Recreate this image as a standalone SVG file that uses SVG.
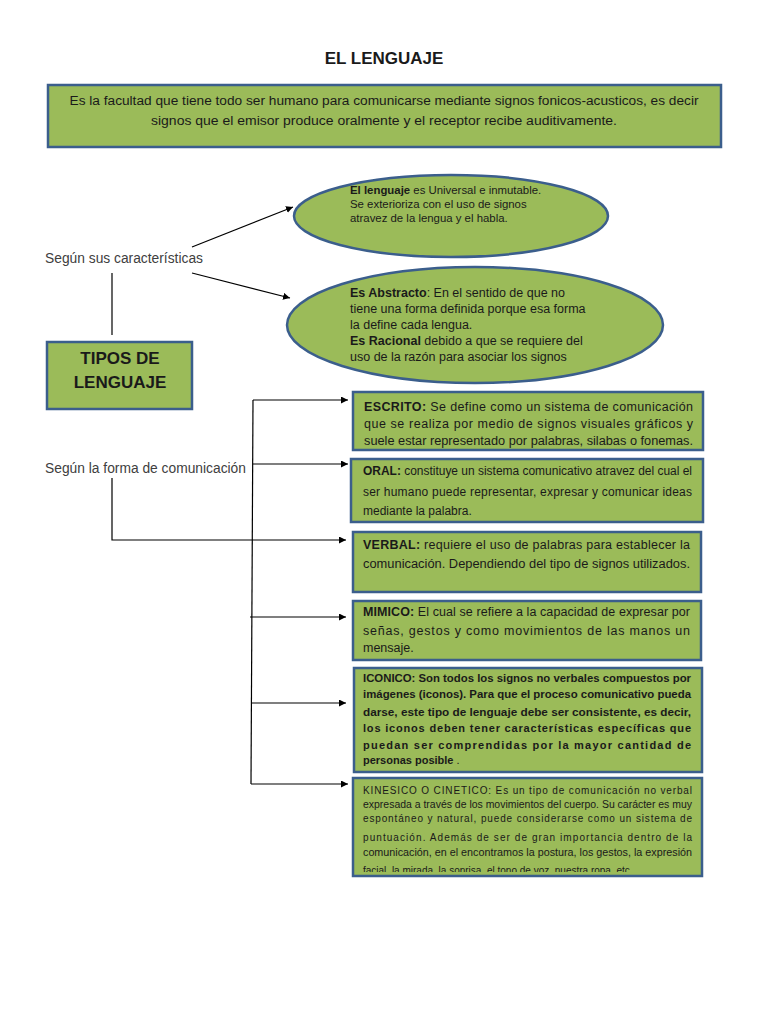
<svg xmlns="http://www.w3.org/2000/svg" width="768" height="1024" viewBox="0 0 768 1024">
<defs>
<marker id="arr" viewBox="0 0 10 10" refX="10" refY="5" markerWidth="7" markerHeight="7" orient="auto" markerUnits="userSpaceOnUse">
<path d="M0,0 L10,5 L0,10 z" fill="#000"/>
</marker>
<clipPath id="kclip"><rect x="354" y="780" width="346" height="92"/></clipPath>
</defs>
<style>
.box{fill:#9BBB59;stroke:#3B5E8C;stroke-width:2.5}
.ell{fill:#9BBB59;stroke:#3B5E8C;stroke-width:2.5}
.t{font-family:"Liberation Sans",Arial,sans-serif;fill:#1a1a1a}
.lbl{font-family:"Liberation Sans",Arial,sans-serif;fill:#404040;font-size:13.8px}
.b{font-weight:bold}
.con{stroke:#000;stroke-width:1.2;fill:none}
</style>
<rect width="768" height="1024" fill="#fff"/>

<g id="title">
<text class="t b" x="384" y="64" font-size="17" text-anchor="middle" fill="#000">EL LENGUAJE</text>
</g>

<g id="definicion">
<rect class="box" x="48" y="85" width="673" height="62"/>
<text class="t" x="384" y="105" font-size="12.5" text-anchor="middle" textLength="629" lengthAdjust="spacingAndGlyphs">Es la facultad que tiene todo ser humano para comunicarse mediante signos fonicos-acusticos, es decir</text>
<text class="t" x="384" y="125" font-size="12.5" text-anchor="middle" textLength="466" lengthAdjust="spacingAndGlyphs">signos que el emisor produce oralmente y el receptor recibe auditivamente.</text>
</g>

<g id="label-caracteristicas">
<text class="lbl" x="45" y="263">Según sus características</text>
</g>

<g id="caracteristica-1">
<ellipse class="ell" cx="451" cy="216" rx="157" ry="41"/>
<text class="t" font-size="11.4" x="350" y="194"><tspan class="b">El lenguaje</tspan> es Universal e inmutable.</text>
<text class="t" font-size="11.4" x="350" y="208">Se exterioriza con el uso de signos</text>
<text class="t" font-size="11.4" x="350" y="222">atravez de la lengua y el habla.</text>
</g>

<g id="caracteristica-2">
<ellipse class="ell" cx="475" cy="325" rx="188" ry="58"/>
<text class="t" font-size="12.5" x="350" y="297"><tspan class="b">Es Abstracto</tspan>: En el sentido de que no</text>
<text class="t" font-size="12.5" x="350" y="313">tiene una forma definida porque esa forma</text>
<text class="t" font-size="12.5" x="350" y="329">la define cada lengua.</text>
<text class="t" font-size="12.5" x="350" y="345"><tspan class="b">Es Racional</tspan> debido a que se requiere del</text>
<text class="t" font-size="12.5" x="350" y="361">uso de la razón para asociar los signos</text>
</g>

<g id="tipos">
<rect class="box" x="47" y="342" width="145" height="67"/>
<text class="t b" x="120" y="364" font-size="17" text-anchor="middle" fill="#000">TIPOS DE</text>
<text class="t b" x="120" y="388" font-size="17" text-anchor="middle" fill="#000">LENGUAJE</text>
</g>

<g id="label-forma">
<text class="lbl" x="45" y="473">Según la forma de comunicación</text>
</g>

<g id="escrito">
<rect class="box" x="353" y="392" width="350" height="58"/>
<text class="t" font-size="12.5" x="364" y="411" textLength="329" lengthAdjust="spacing"><tspan class="b">ESCRITO:</tspan> Se define como un sistema de comunicación</text>
<text class="t" font-size="12.5" x="364" y="428" textLength="329" lengthAdjust="spacing">que se realiza por medio de signos visuales gráficos y</text>
<text class="t" font-size="12.5" x="364" y="445" textLength="329" lengthAdjust="spacingAndGlyphs">suele estar representado por palabras, silabas o fonemas.</text>
</g>

<g id="oral">
<rect class="box" x="351" y="459" width="352" height="63"/>
<text class="t" font-size="12" x="363" y="475" textLength="329" lengthAdjust="spacingAndGlyphs"><tspan class="b">ORAL:</tspan> constituye un sistema comunicativo atravez del cual el</text>
<text class="t" font-size="12" x="363" y="496" textLength="329" lengthAdjust="spacing">ser humano puede representar, expresar y comunicar ideas</text>
<text class="t" font-size="12" x="363" y="515">mediante la palabra.</text>
</g>

<g id="verbal">
<rect class="box" x="353" y="532" width="348" height="60"/>
<text class="t" font-size="12.5" x="363" y="549" textLength="327" lengthAdjust="spacing"><tspan class="b">VERBAL:</tspan>  requiere el uso de palabras para establecer la</text>
<text class="t" font-size="12.5" x="363" y="568" textLength="327" lengthAdjust="spacingAndGlyphs">comunicación. Dependiendo del tipo de signos utilizados.</text>
</g>

<g id="mimico">
<rect class="box" x="353" y="601" width="348" height="59"/>
<text class="t" font-size="12.5" x="363" y="616" textLength="327" lengthAdjust="spacing"><tspan class="b">MIMICO:</tspan> El cual se refiere a la capacidad de expresar por</text>
<text class="t" font-size="12.5" x="363" y="635" textLength="327" lengthAdjust="spacing">señas, gestos y como movimientos de las manos un</text>
<text class="t" font-size="12.5" x="363" y="652">mensaje.</text>
</g>

<g id="iconico">
<rect class="box" x="354" y="668" width="348" height="104"/>
<g class="t b" font-size="11">
<text x="363" y="682" textLength="328" lengthAdjust="spacingAndGlyphs">ICONICO: Son todos los signos no verbales compuestos por</text>
<text x="363" y="698" textLength="328" lengthAdjust="spacingAndGlyphs">imágenes (iconos). Para que el proceso comunicativo pueda</text>
<text x="363" y="716" textLength="328" lengthAdjust="spacingAndGlyphs">darse, este tipo de lenguaje debe ser consistente, es decir,</text>
<text x="363" y="732" textLength="328" lengthAdjust="spacing">los iconos deben tener características específicas que</text>
<text x="363" y="749" textLength="328" lengthAdjust="spacing">puedan ser comprendidas por la mayor cantidad de</text>
<text x="363" y="764">personas posible <tspan font-weight="normal">.</tspan></text>
</g>
</g>

<g id="kinesico">
<rect class="box" x="353" y="778" width="349" height="98"/>
<g class="t" font-size="10">
<text x="363" y="794" textLength="329" lengthAdjust="spacing">KINESICO O CINETICO: Es un tipo de comunicación  no verbal</text>
<text x="363" y="808" textLength="329" lengthAdjust="spacingAndGlyphs">expresada a través de los  movimientos del cuerpo. Su carácter es muy</text>
<text x="363" y="822" textLength="329" lengthAdjust="spacing">espontáneo y natural, puede considerarse como un  sistema de</text>
<text x="363" y="841" textLength="329" lengthAdjust="spacing">puntuación. Además de ser de gran importancia dentro de la</text>
<text x="363" y="856" textLength="329" lengthAdjust="spacingAndGlyphs">comunicación, en el encontramos la postura, los gestos, la expresión</text>
<text x="363" y="874" clip-path="url(#kclip)">facial, la mirada, la sonrisa, el tono de voz, nuestra ropa, etc.</text>
</g>
</g>

<g id="connectors">
<line class="con" x1="192" y1="247" x2="293" y2="207" marker-end="url(#arr)"/>
<line class="con" x1="192" y1="273" x2="290" y2="298" marker-end="url(#arr)"/>
<line class="con" x1="112" y1="273" x2="112" y2="335"/>
<line class="con" x1="253" y1="400" x2="251" y2="784"/>
<line class="con" x1="253" y1="400" x2="348" y2="400" marker-end="url(#arr)"/>
<line class="con" x1="253" y1="464" x2="348" y2="464" marker-end="url(#arr)"/>
<polyline class="con" points="112,478 112,540 346,540" marker-end="url(#arr)"/>
<line class="con" x1="250" y1="617" x2="346" y2="617" marker-end="url(#arr)"/>
<line class="con" x1="251" y1="703" x2="346" y2="703" marker-end="url(#arr)"/>
<line class="con" x1="251" y1="784" x2="348" y2="784" marker-end="url(#arr)"/>
</g>
</svg>
